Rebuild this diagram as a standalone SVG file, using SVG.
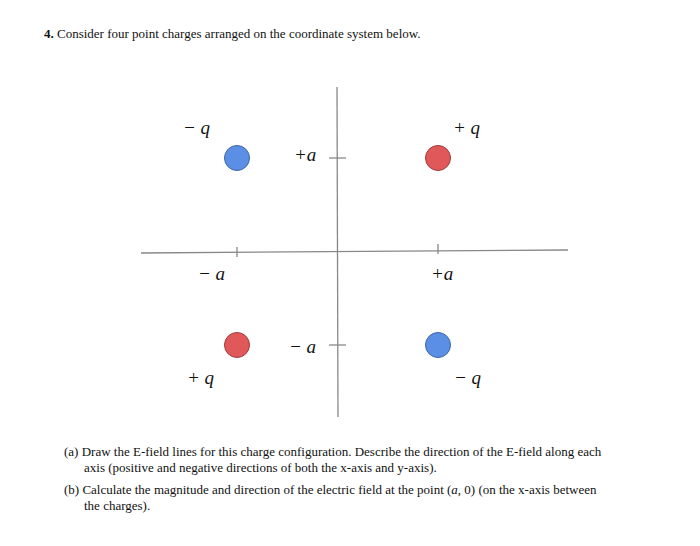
<svg xmlns="http://www.w3.org/2000/svg" width="700" height="546" viewBox="0 0 700 546">
<style>
.t{font-family:"Liberation Serif","DejaVu Serif",serif;font-size:13px;fill:#111}
.m{font-family:"Liberation Serif","DejaVu Serif",serif;font-size:19px;font-style:italic;fill:#111}
.ax{stroke:#888;stroke-width:1.3;fill:none}
.neg{fill:#5b8fe6;stroke:#3d64a8;stroke-width:1}
.pos{fill:#e0585a;stroke:#9e3a3a;stroke-width:1}
</style>
<rect width="700" height="546" fill="#fff"/>
<text class="t" x="44" y="38"><tspan font-weight="bold">4.</tspan> Consider four point charges arranged on the coordinate system below.</text>
<g id="axes" class="ax">
<line x1="337" y1="87" x2="338" y2="417"/>
<line x1="141" y1="253" x2="568" y2="250"/>
<line x1="237" y1="247" x2="237" y2="257"/>
<line x1="438" y1="244" x2="438" y2="254"/>
<line x1="329" y1="158" x2="346" y2="158"/>
<line x1="329" y1="345" x2="346" y2="345"/>
</g>
<g id="q1"><circle class="neg" cx="237" cy="158" r="12.5"/><text class="m" x="183" y="134">− q</text></g>
<g id="q2"><circle class="pos" cx="438" cy="158" r="12.5"/><text class="m" x="453" y="134">+ q</text></g>
<g id="q3"><circle class="pos" cx="237" cy="345" r="12.5"/><text class="m" x="187" y="384">+ q</text></g>
<g id="q4"><circle class="neg" cx="438" cy="345" r="12.5"/><text class="m" x="454" y="384">− q</text></g>
<g id="labels">
<text class="m" x="294" y="161">+a</text>
<text class="m" x="198" y="280">− a</text>
<text class="m" x="431" y="280">+a</text>
<text class="m" x="289" y="353">− a</text>
</g>
<text class="t" x="64" y="456">(a) Draw the E-field lines for this charge configuration. Describe the direction of the E-field along each</text>
<text class="t" x="84" y="472">axis (positive and negative directions of both the x-axis and y-axis).</text>
<text class="t" x="64" y="494">(b) Calculate the magnitude and direction of the electric field at the point (<tspan font-style="italic">a</tspan>, 0) (on the x-axis between</text>
<text class="t" x="84" y="510">the charges).</text>
</svg>
